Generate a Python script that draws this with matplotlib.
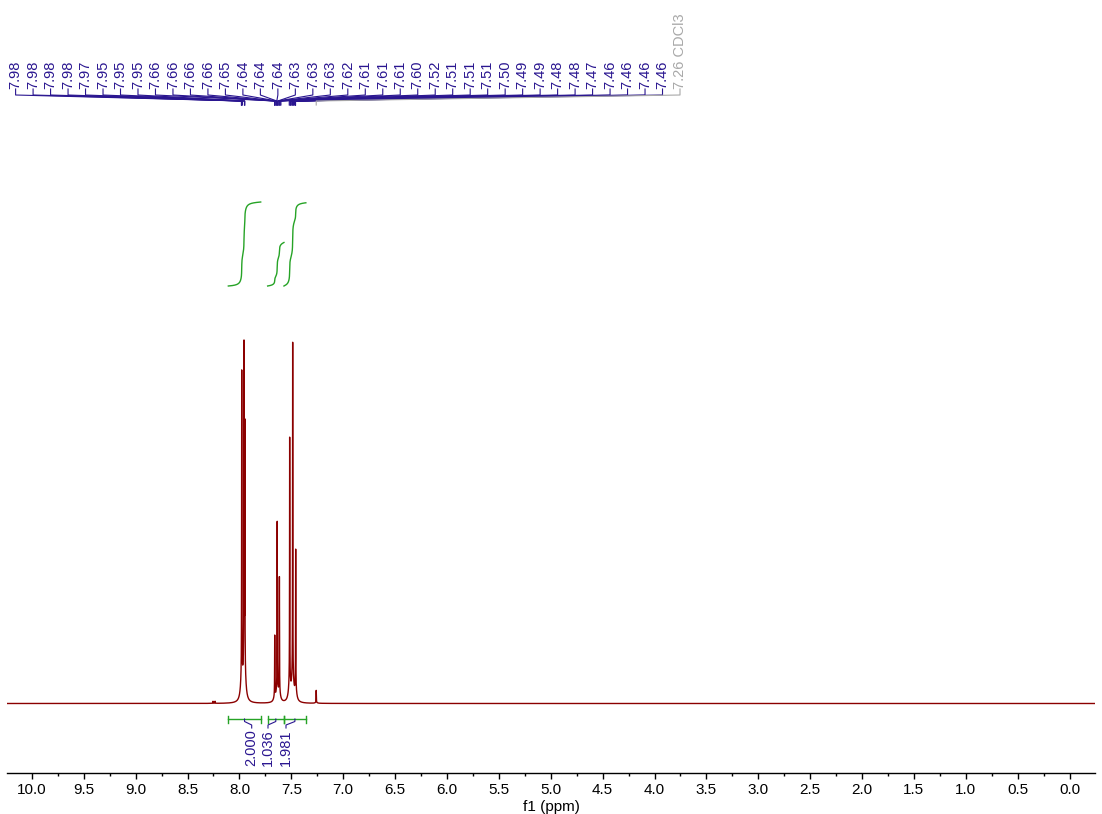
import numpy as np
import matplotlib
matplotlib.use("Agg")
import matplotlib.pyplot as plt
from matplotlib.ticker import MultipleLocator, FormatStrFormatter

plt.rcParams['font.family'] = ['Liberation Sans', 'DejaVu Sans']

# ---------------- data ----------------
# resolved signals (ppm) and relative heights
signal_ppm = [8.255, 8.235, 7.978, 7.956, 7.948, 7.660, 7.636, 7.615,
              7.516, 7.487, 7.458, 7.260]
signal_height = [0.006, 0.006, 0.955, 1.0, 0.76, 0.19, 0.525, 0.36,
                 0.77, 1.05, 0.44, 0.038]

# peak-picking labels
peak_labels = ["7.98", "7.98", "7.98", "7.98", "7.97", "7.95", "7.95", "7.95",
               "7.66", "7.66", "7.66", "7.66", "7.65", "7.64", "7.64", "7.64",
               "7.63", "7.63", "7.63", "7.62", "7.61", "7.61", "7.61", "7.60",
               "7.52", "7.51", "7.51", "7.51", "7.50", "7.49", "7.49", "7.48",
               "7.48", "7.47", "7.46", "7.46", "7.46", "7.46"]
solvent_label = "7.26"
solvent_name = "CDCl3"

# integration regions (ppm from, ppm to) and values
integral_from = [8.107, 7.728, 7.571]
integral_to = [7.795, 7.571, 7.360]
integral_values = [2.000, 1.036, 1.981]

# ---------------- figure ----------------
W, H = 1102, 814
fig = plt.figure(figsize=(W / 100, H / 100), dpi=100)
ax = fig.add_axes([7 / W, (H - 773) / H, (1095 - 7) / W, 773 / H])
ax.set_xlim(10.24, -0.245)
ax.set_ylim(-0.1912, 1.9352)

ppm = np.linspace(10.24, -0.245, 90000)


def lorentz(x, x0, w):
    return 1.0 / (1.0 + ((x - x0) / w) ** 2)


spec = np.zeros_like(ppm)
for p, h in zip(signal_ppm, signal_height):
    spec += h * (0.93 * lorentz(ppm, p, 0.0012) + 0.07 * lorentz(ppm, p, 0.012))
spec /= spec.max()

red = '#8b0000'
ax.plot(ppm, spec, color=red, lw=1.0)

for s in ['top', 'left', 'right']:
    ax.spines[s].set_visible(False)
ax.spines['bottom'].set_linewidth(1.0)
ax.set_yticks([])
ax.patch.set_alpha(0)
ax.xaxis.set_major_locator(MultipleLocator(0.5))
ax.xaxis.set_minor_locator(MultipleLocator(0.25))
ax.xaxis.set_major_formatter(FormatStrFormatter('%.1f'))
ax.tick_params(axis='x', which='major', length=4, width=1, labelsize=11, pad=3)
ax.tick_params(axis='x', which='minor', length=2, width=1)
ax.set_xlabel('f1 (ppm)', fontsize=11, labelpad=2.5)

# ---------------- overlay in pixel coordinates ----------------
ov = fig.add_axes([0, 0, 1, 1])
ov.set_xlim(0, W)
ov.set_ylim(H, 0)
ov.axis('off')
ov.patch.set_alpha(0)

xl0, xl1 = ax.get_xlim()
bb = ax.get_position()
axl, axw = bb.x0 * W, bb.width * W


def px(p):
    return axl + (xl0 - np.asarray(p)) / (xl0 - xl1) * axw


navy = '#2a1690'
gray = '#a8a8a8'
green = '#26a326'

# peak labels with connectors
all_labels = peak_labels + [solvent_label]
n = len(all_labels)
lab_x = np.linspace(15.6, 680, n)
for i, (lx, lab) in enumerate(zip(lab_x, all_labels)):
    pv = float(lab)
    col = navy if i < n - 1 else gray
    txt = lab if i < n - 1 else f"{lab} {solvent_name}"
    ov.text(lx, 89, txt, rotation=90, ha='center', va='bottom',
            fontsize=10.5, color=col)
    ov.plot([lx, lx, px(pv), px(pv)], [89, 95, 101, 105], color=col, lw=0.8)

# integrals
int_label_x = [251.7, 268.0, 286.0]
for a, b, v, lx in zip(integral_from, integral_to, integral_values, int_label_x):
    m = (ppm <= a) & (ppm >= b)
    cum = np.cumsum(spec[m])
    cum = cum / cum[-1]
    ov.plot(px(ppm[m]), 286 - cum * v * 42.0, color=green, lw=1.0)
    xa, xb = px(a), px(b)
    ov.plot([xa, xb], [719, 719], color=green, lw=1.0)
    ov.plot([xa, xa], [715.5, 722.5], color=green, lw=1.0)
    ov.plot([xb, xb], [715.5, 722.5], color=green, lw=1.0)
    mid = (xa + xb) / 2
    ov.plot([mid, mid, lx, lx], [719, 721.5, 725, 728], color=navy, lw=0.8)
    ov.text(lx, 729, f"{v:.3f}", rotation=90, ha='center', va='top',
            fontsize=10.5, color=navy)

fig.savefig('out.png', dpi=100)
